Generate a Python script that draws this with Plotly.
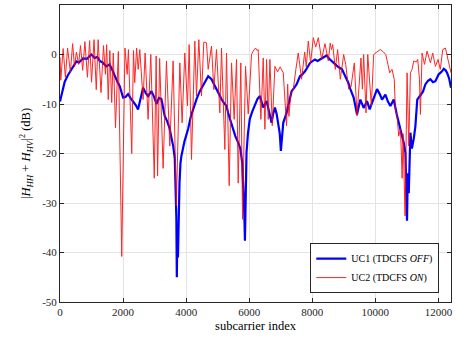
import plotly.graph_objects as go

# ---- data ----
uc1_x = [0, 80, 150, 250, 360, 450, 520, 600, 730, 850, 995, 1100, 1180, 1260, 1350, 1470, 1575, 1650,
         1735, 1820, 1895, 2000, 2080, 2160, 2240, 2320, 2400, 2475, 2550, 2635, 2720, 2795, 2900, 2980,
         3060, 3140, 3215, 3320, 3400, 3480, 3540, 3590, 3640, 3670, 3690, 3705, 3720, 3740, 3760, 3790,
         3820, 3850, 3950, 4065, 4150, 4220, 4330, 4435, 4520, 4595, 4700, 4805, 4880, 4960, 5040, 5120,
         5200, 5280, 5340, 5390, 5450, 5495, 5560, 5650, 5720, 5780, 5810, 5840, 5865, 5885, 5915, 5960,
         6020, 6100, 6180, 6260, 6340, 6445, 6500, 6550, 6630, 6710, 6760, 6815, 6870, 6920, 6970, 7005,
         7040, 7080, 7185, 7260, 7345, 7420, 7505, 7610, 7690, 7770, 7850, 7930, 8085, 8170, 8245, 8350,
         8455, 8530, 8615, 8720, 8800, 8943, 9049, 9150, 9208, 9313, 9419, 9525, 9630, 9736, 9821, 9948,
         10054, 10140, 10213, 10319, 10400, 10478, 10584, 10690, 10795, 10850, 10901, 10955, 10980, 11005,
         11030, 11060, 11113, 11160, 11220, 11270, 11330, 11436, 11510, 11590, 11670, 11745, 11830, 11905,
         12010, 12100, 12170, 12230, 12275, 12340, 12400]
uc1_y = [-9.5, -7, -5.5, -4.2, -3, -2.2, -1.4, -1.6, -0.8, -0.9, 0, -0.7, -0.5, -1.3, -1.6, -2.4, -2, -3,
         -4.4, -5.5, -6.4, -8.7, -8.6, -8, -8.8, -9.4, -10.2, -11.1, -9, -6.7, -7.8, -8.4, -7.4, -8.5,
         -10, -8.8, -9, -12.4, -13.5, -15, -17, -18.5, -21, -26, -33, -45, -36, -41, -30, -26,
         -22, -20.5, -17.5, -15, -12.5, -11, -9, -7.4, -6.5, -5.7, -4.4, -5, -6, -7, -8, -9,
         -9.8, -10.4, -12, -13, -14.5, -15, -16.5, -17.8, -19, -22, -26, -31, -37.6, -27, -19.8, -16,
         -13, -11.5, -10.4, -9, -8.4, -10.7, -10, -9.4, -11.5, -13.8, -12, -10.7, -12, -13.8, -16, -19.5,
         -16, -13.8, -11.8, -9.5, -7.4, -6.8, -6, -4.4, -4, -3.4, -2.5, -1.7, -1, -1.3, -1, -0.6,
         -0.2, -0.8, -1.3, -2, -2.4, -3, -4.4, -5.8, -7, -8.7, -12.1, -9.1, -10.8, -9.4, -11.1, -8.7,
         -7, -8, -9.1, -8.1, -9.5, -10.4, -9.1, -12.4, -15, -16.5, -17.8, -19.8, -26, -33.6,
         -24, -28, -15.8, -19, -17, -14.5, -9.1, -8.1, -7.5, -6, -5.3, -5, -5.6, -5.4,
         -4, -3.5, -2.9, -3.2, -3.7, -4.8, -6.7]

uc2_x = [0, 25, 100, 170, 240, 330, 400, 460, 520, 590, 650, 720, 790, 870, 940, 1000, 1080, 1150, 1210,
         1300, 1380, 1440, 1480, 1530, 1580, 1640, 1690, 1760, 1850, 1958, 2060, 2130, 2170, 2275, 2330,
         2370, 2430, 2480, 2530, 2635, 2700, 2794, 2880, 2990, 3050, 3095, 3160, 3270, 3376, 3482, 3588,
         3690, 3800, 3873, 3958, 4043, 4096, 4170, 4276, 4328, 4403, 4487, 4560, 4646, 4699, 4805, 4879,
         4963, 5069, 5122, 5228, 5281, 5366, 5440, 5524, 5598, 5651, 5735, 5788, 5884, 5969, 6074, 6127,
         6200, 6250, 6286, 6371, 6445, 6498, 6551, 6604, 6657, 6731, 6815, 6900, 6980, 7080, 7185, 7220,
         7260, 7320, 7400, 7480, 7556, 7662, 7720, 7760, 7810, 7874, 7948, 8033, 8110, 8192, 8297, 8403,
         8509, 8570, 8610, 8650, 8731, 8805, 8890, 8996, 9060, 9155, 9230, 9334, 9419, 9545, 9590, 9630,
         9704, 9760, 9874, 9948, 10050, 10160, 10260, 10330, 10400, 10456, 10530, 10600, 10636, 10690,
         10742, 10800, 10850, 10880, 10943, 10980, 11007, 11060, 11113, 11165, 11218, 11300, 11345, 11400,
         11430, 11483, 11560, 11641, 11747, 11820, 11906, 11990, 12060, 12138, 12223, 12329, 12400]
uc2_y = [-0.5, -5.2, 1.2, -4.6, 1.3, -3.6, 2.2, -2.5, 0.5, -2.0, 1.8, -3.2, 2.6, -4.6, 2.8, -5.6, 3.0, -7.1, 3.0,
         -7.7, 1.8, -4, 2.0, -9.1, 0.8, -9.7, 0.3, -14.8, 0.6, -40.8, 1.3, -4, 1.0, -20.0, 0.8,
         -5.7, 1.3, -3, 1.0, -9.1, 0.3, -13.1, 0, -25, -0.3, -24.5, -0.8, -23, -1.3, -18.5, -1.3,
         -30.6, -1.7, -13.8, 0.3, -10.4, 2.0, -21.2, 2.7, -8.4, 3.0, -8.4, 2.5, 2.35, -3.0, 1.7, -7.1,
         1.0, -11.8, 1.3, -19.2, 0.3, -26.5, -1.7, -13.1, -1.0, -26, -1.7, -33.3, -2.4, -12, 0, 0.7,
         1.3, 0.8, 1.0, -13.1, -0.7, -15.1, -1.0, -13.1, -1.0, -14.4, -2.4, -3.5, -2.5, -3.7, -14.4, -6,
         -12.5, -8, -7, -3, 0.3, -5, -1, 0.5, -2.5, 2.7, -1.7, 3.4, 1.5, 3.4, -1, 2.2,
         -1.3, 2.3, 1.0, 2.0, -3, 1, -5, 0, -2, -7, -6.5, -1.7, -12.4, -0.7, -7, 0,
         -11.8, 0, -10.4, 0, 0.5, 1, 0.5, 0, -2, -3.7, -3, -5, -11.1, -12.4,
         -16.5, -15, -25, -16, -32.6, -20, -3.7, -18.5, -3.7, -3, -1.3, -1.5, -1, -5,
         -12.1, 0.3, -2, 0.7, -1.7, 0.3, -2.4, -1, -3, 1, 1.3, -1.7, -3.7]

series_names = ["UC1 (TDCFS <i>OFF</i>)", "UC2 (TDCFS <i>ON</i>)"]
x_ticks = [0, 2000, 4000, 6000, 8000, 10000, 12000]
y_ticks = [-50, -40, -30, -20, -10, 0, 10]

FONT = "Liberation Serif"

fig = go.Figure()
fig.add_trace(go.Scatter(x=uc1_x, y=uc1_y, mode="lines", name=series_names[0],
                         line=dict(color="#0000ff", width=2.2)))
fig.add_trace(go.Scatter(x=uc2_x, y=uc2_y, mode="lines", name=series_names[1],
                         line=dict(color="#ff0000", width=1), opacity=0.85))

axis_common = dict(showline=True, linecolor="#262626", linewidth=1, mirror="ticks",
                   ticks="inside", ticklen=4, tickcolor="#262626", automargin=False,
                   showgrid=True, gridcolor="#e3e3e3", gridwidth=1, zeroline=False,
                   tickfont=dict(family=FONT, size=11, color="#262626"))

fig.update_layout(
    width=474, height=356,
    margin=dict(l=60, r=23, t=5, b=54),
    paper_bgcolor="white", plot_bgcolor="white",
    font=dict(family=FONT, color="#262626"),
    showlegend=True,
    legend=dict(x=0.97, y=0.03, xanchor="right", yanchor="bottom",
                bgcolor="white", bordercolor="#262626", borderwidth=1,
                font=dict(family=FONT, size=10, color="#000000"),
                tracegroupgap=0, itemwidth=30),
    xaxis=dict(range=[0, 12400], tickvals=x_ticks, ticktext=[str(v) for v in x_ticks],
               title=dict(text="subcarrier index", font=dict(family=FONT, size=12.5, color="#000"),
                          standoff=4),
               **axis_common),
    yaxis=dict(range=[-50, 10], tickvals=y_ticks, ticktext=[str(v) for v in y_ticks],
               title=dict(text="|<i>H</i><sub><i>HH</i></sub> + <i>H</i><sub><i>HV</i></sub>|<sup>2</sup> (dB)",
                          font=dict(family=FONT, size=12.5, color="#000"), standoff=8),
               **axis_common),
)

fig.write_html("out.html", config={"displayModeBar": False},
               post_script="document.body.style.margin='0';document.body.style.padding='0';")
